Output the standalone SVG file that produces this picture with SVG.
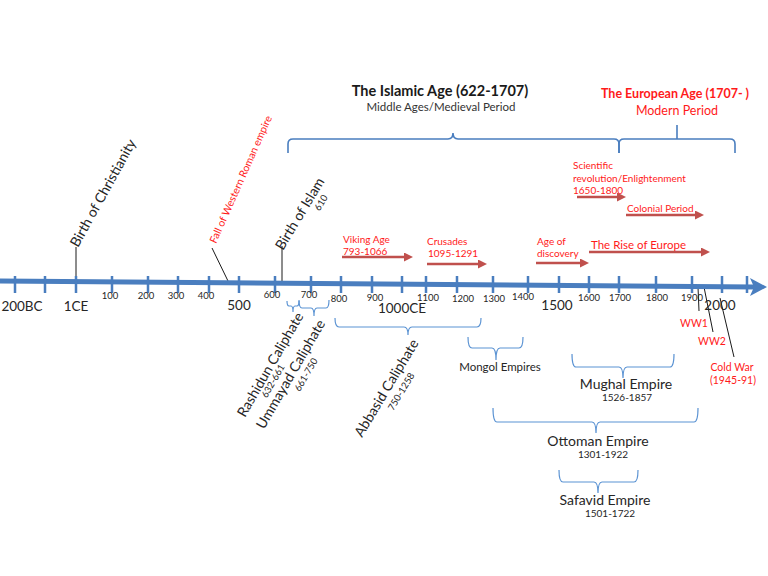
<svg xmlns="http://www.w3.org/2000/svg" width="768" height="576" viewBox="0 0 768 576">
<defs>
<style>
text{font-family:Lato,"Liberation Sans",sans-serif;fill:#262626}
.tk{font-size:9.5px;text-anchor:middle}
.bg{font-size:13.5px;text-anchor:middle}
.ev{font-size:14px}
.sm{font-size:9.5px;text-anchor:middle}
text.red{fill:#FF1A1A}
.lab{font-size:10px;fill:#FF1A1A}
.ww{font-size:10.5px;fill:#FF1A1A;text-anchor:middle}
.emp{font-size:14px;text-anchor:middle}
.yr{font-size:10px;text-anchor:middle}
.brT{fill:none;stroke:#4A7EBF;stroke-width:1.6}
.brB{fill:none;stroke:#5B93D3;stroke-width:1.2}
.blk{stroke:#1a1a1a;stroke-width:1}
.arr{stroke:#C0504D;stroke-width:2.5;marker-end:url(#ah)}
</style>
<marker id="ah" markerUnits="userSpaceOnUse" markerWidth="9" markerHeight="9" viewBox="0 0 9 9" refX="0" refY="4.5" orient="auto">
<path d="M0,0 L9,4.5 L0,9 z" fill="#C0504D"/>
</marker>
</defs>
<rect width="768" height="576" fill="#ffffff"/>

<g id="connectors">
<line class="blk" x1="76" y1="247" x2="76" y2="281"/>
<line class="blk" x1="212" y1="248" x2="228" y2="281"/>
<line class="blk" x1="282" y1="246" x2="282" y2="283"/>
<line class="blk" x1="698" y1="287" x2="699" y2="311"/>
<line class="blk" x1="704" y1="287" x2="713" y2="332"/>
<line class="blk" x1="720" y1="298" x2="734" y2="357"/>
<line class="arr" x1="342" y1="257" x2="404" y2="257"/>
<line class="arr" x1="427" y1="264" x2="478" y2="264"/>
<line class="arr" x1="536" y1="263" x2="580" y2="263"/>
<line class="arr" x1="589" y1="252" x2="701" y2="252"/>
<line class="arr" x1="577" y1="197" x2="617" y2="197"/>
<line class="arr" x1="626" y1="215" x2="695" y2="215"/>
</g>

<g id="axis">
<line x1="0" y1="281" x2="754" y2="287" stroke="#4A7EBF" stroke-width="5"/>
<polygon points="750,278 767,287 750,296 754,287" fill="#4A7EBF"/>
<path stroke="#4A7EBF" stroke-width="2.5" d="M15,276V293M45,276V293M76,276V293M112,276V293M148,276V293M178,276V293M209,276V293M239,276V293M275,276V293M311,276V293M341,276V293M372,276V293M402,276V293M426,276V293M457,276V293M493,276V293M528,276V293M559,276V293M589,276V293M619,276V293M656,276V293M692,276V293M722,276V293M747,276V293"/>
<text class="bg" x="22" y="311">200BC</text>
<text class="bg" x="76" y="311">1CE</text>
<text class="tk" x="110" y="298.5">100</text>
<text class="tk" x="146" y="298.5">200</text>
<text class="tk" x="176" y="298.5">300</text>
<text class="tk" x="206" y="298.5">400</text>
<text class="bg" x="239" y="310">500</text>
<text class="tk" x="272" y="298">600</text>
<text class="tk" x="309" y="298">700</text>
<text class="tk" x="339" y="302">800</text>
<text class="tk" x="375" y="301">900</text>
<text class="bg" x="402" y="313">1000CE</text>
<text class="tk" x="428" y="301">1100</text>
<text class="tk" x="463" y="302">1200</text>
<text class="tk" x="494" y="302">1300</text>
<text class="tk" x="523" y="300">1400</text>
<text class="bg" x="557" y="310">1500</text>
<text class="tk" x="589" y="301">1600</text>
<text class="tk" x="620" y="301">1700</text>
<text class="tk" x="657" y="301">1800</text>
<text class="tk" x="692" y="301">1900</text>
<text class="bg" x="720" y="310">2000</text>
</g>

<g id="islamic-age">
<path class="brT" d="M288,153V144Q288,139 293,139H448Q453,139 453,133Q453,139 458,139H614Q619,139 619,144V153"/>
<text x="440" y="96" style="font-size:14.5px;font-weight:bold;text-anchor:middle;fill:#1a1a1a">The Islamic Age (622-1707)</text>
<text x="441" y="111" style="font-size:11.5px;text-anchor:middle;fill:#333">Middle Ages/Medieval Period</text>
</g>

<g id="european-age">
<path class="brT" d="M619,153V144Q619,139 624,139H730Q735,139 735,144V153M677,139V125"/>
<text class="red" x="675" y="98" style="font-size:12.5px;font-weight:bold;text-anchor:middle">The European Age (1707- )</text>
<text class="red" x="677" y="115" style="font-size:12.5px;text-anchor:middle">Modern Period</text>
</g>

<g id="birth-christianity">
<text class="ev" transform="translate(78,248) rotate(-61)">Birth of Christianity</text>
</g>

<g id="fall-rome">
<text class="red" transform="translate(216,244) rotate(-66)" style="font-size:10.5px">Fall of Western Roman empire</text>
</g>

<g id="birth-islam">
<g transform="translate(283,251) rotate(-59)">
<text class="ev" x="0" y="0">Birth of Islam</text>
<text class="sm" x="61" y="11">610</text>
</g>
</g>

<g id="viking">
<text class="lab" x="343" y="243">Viking Age</text>
<text class="lab" x="343" y="255">793-1066</text>
</g>
<g id="crusades">
<text class="lab" x="427" y="245">Crusades</text>
<text class="lab" x="428" y="257">1095-1291</text>
</g>
<g id="discovery">
<text class="lab" x="537" y="245">Age of</text>
<text class="lab" x="537" y="257">discovery</text>
</g>
<g id="rise-europe">
<text class="red" x="591" y="249" style="font-size:11.5px">The Rise of Europe</text>
</g>
<g id="scientific">
<text class="lab" x="573" y="169">Scientific</text>
<text class="lab" x="573" y="182">revolution/Enlightenment</text>
<text class="lab" x="573" y="194">1650-1800</text>
</g>
<g id="colonial">
<text class="lab" x="627" y="212">Colonial Period</text>
</g>

<g id="ww1"><text class="ww" x="694" y="327">WW1</text></g>
<g id="ww2"><text class="ww" x="712" y="345">WW2</text></g>
<g id="cold-war">
<text class="ww" x="732" y="371">Cold War</text>
<text class="ww" x="733" y="384">(1945-91)</text>
</g>

<g id="rashidun">
<path class="brB" d="M287,301Q287,306 289,306H291Q293,306 293,312Q293,306 295,306H297Q299,306 299,301"/>
<g transform="translate(245,418) rotate(-60)">
<text class="ev" x="0" y="0">Rashidun Caliphate</text>
<text class="sm" x="46" y="9">632-661</text>
</g>
</g>

<g id="ummayad">
<path class="brB" d="M299,300Q299,308 302,308H311Q314,308 314,316Q314,308 317,308H326Q329,308 329,300"/>
<g transform="translate(264,430) rotate(-60)">
<text class="ev" x="0" y="0">Ummayad Caliphate</text>
<text class="sm" x="69" y="12">661-750</text>
</g>
</g>

<g id="abbasid">
<path class="brB" d="M335,318Q335,327 339,327H404Q408,327 408,335Q408,327 412,327H477Q481,327 481,318"/>
<g transform="translate(362,438) rotate(-59)">
<text class="ev" x="0" y="0">Abbasid Caliphate</text>
<text class="sm" x="60" y="13">750-1258</text>
</g>
</g>

<g id="mongol">
<path class="brB" d="M468,337Q468,348 472,348H492Q496,348 496,360Q496,348 500,348H519Q523,348 523,337"/>
<text x="500" y="371" style="font-size:11.5px;text-anchor:middle">Mongol Empires</text>
</g>

<g id="mughal">
<path class="brB" d="M572,354Q572,367 576,367H619Q623,367 623,378Q623,367 627,367H670Q674,367 674,354"/>
<text class="emp" x="626" y="389">Mughal Empire</text>
<text class="yr" x="627" y="401">1526-1857</text>
</g>

<g id="ottoman">
<path class="brB" d="M493,408Q493,422 497,422H592Q596,422 596,433Q596,422 600,422H694Q698,422 698,408"/>
<text class="emp" x="598" y="446">Ottoman Empire</text>
<text class="yr" x="603" y="458">1301-1922</text>
</g>

<g id="safavid">
<path class="brB" d="M559,470Q559,482 563,482H594Q598,482 598,493Q598,482 602,482H634Q638,482 638,470"/>
<text class="emp" x="605" y="505">Safavid Empire</text>
<text class="yr" x="610" y="517">1501-1722</text>
</g>
</svg>
